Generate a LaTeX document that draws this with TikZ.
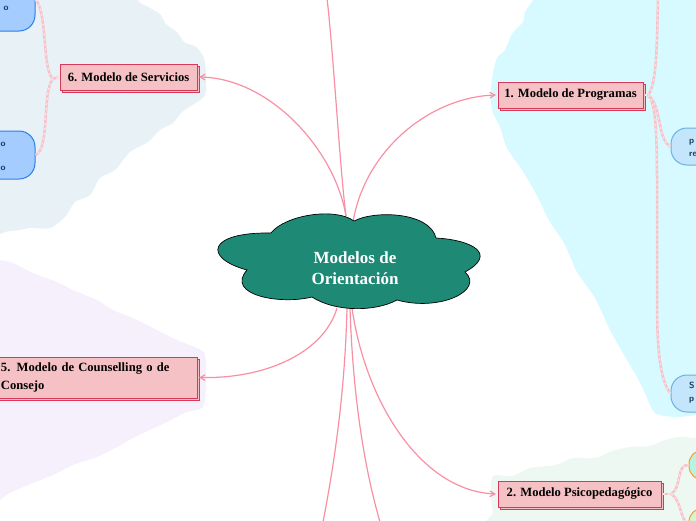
\documentclass[tikz,border=0pt]{standalone}
\usepackage{fontspec}
\setmainfont{Liberation Serif}
\usetikzlibrary{arrows,shadows}

\definecolor{linkpink}{HTML}{F98FA3}
\definecolor{stripepink}{HTML}{F7C3CA}
\definecolor{boxfill}{HTML}{F6C1C4}
\definecolor{boxline}{HTML}{D63A58}
\definecolor{cloudfill}{HTML}{1E8A76}
\definecolor{blobserv}{HTML}{E8F1F6}
\definecolor{blobprog}{HTML}{D6FAFF}
\definecolor{blobpsic}{HTML}{EEF8F3}
\definecolor{blobcons}{HTML}{F6F0FC}
\definecolor{leafblue}{HTML}{A5CCFF}
\definecolor{leafblueline}{HTML}{2A7FE8}
\definecolor{leafsky}{HTML}{C4E6FD}
\definecolor{leafskyline}{HTML}{6CB0E0}
\definecolor{leafmint}{HTML}{B8F3E0}
\definecolor{leafgreen}{HTML}{D4F5D0}
\definecolor{leaforange}{HTML}{F5A030}
\definecolor{leaftext}{HTML}{12405A}

\tikzset{
  wavy/.style={smooth cycle,tension=0.5},
  link/.style={draw=linkpink,line width=1.2pt},
  tolink/.style={link,-angle 60},
  stripe/.style={draw=stripepink,line width=2.5pt,postaction={draw=stripepink!45,line width=1.4pt,dash pattern=on 2pt off 3pt}},
  topic/.style={draw=boxline,fill=boxfill,line width=1pt,inner sep=0pt,outer sep=2pt,minimum height=26pt,
    font=\fontsize{12.6}{16}\selectfont\bfseries,text=black,
    copy shadow={shadow xshift=2pt,shadow yshift=-2pt,draw=boxline,fill=boxfill}},
  leaf/.style={draw=#1,line width=1pt,rounded corners=16pt,inner sep=0pt},
  leaflabel/.style={font=\fontsize{9}{13}\selectfont\sffamily\bfseries,text=leaftext,inner sep=0pt,align=left}
}

\begin{document}
\begin{tikzpicture}[x=1pt,y=-1pt]
  \path[use as bounding box,clip] (0,0) rectangle (696,520);

  \fill[blobserv] plot[wavy] coordinates {(137,-10) (138,1) (150,8) (160,14) (166,24) (177,32) (184,42) (196,47) (204,58) (206,75) (205,95) (194,104) (182,112) (173,123) (160,130) (148,142) (130,152) (115,170) (100,178) (90,195) (75,202) (65,217) (50,228) (30,228) (10,231) (-60,232) (-60,-10)};
  \fill[blobprog] plot[wavy] coordinates {(534,-10) (533,0) (525,12) (523,22) (512,34) (505,50) (497,58) (493,73) (491,90) (492,110) (500,127) (507,148) (522,170) (535,192) (550,222) (564,243) (577,272) (595,298) (610,330) (627,360) (637,377) (645,393) (655,413) (677,417) (696,415) (715,415) (715,-10)};
  \fill[blobpsic] plot[wavy] coordinates {(715,437) (696,438) (680,437) (665,440) (650,446) (630,447) (612,451) (595,458) (573,458) (555,465) (530,468) (512,476) (493,476) (491,495) (493,512) (500,530) (715,530)};
  \fill[blobcons] plot[wavy] coordinates {(-15,259) (0,260) (13,263) (33,273) (57,282) (73,290) (97,300) (113,310) (133,318) (153,328) (177,340) (197,348) (205,355) (206,383) (203,407) (187,412) (167,422) (150,430) (133,438) (117,447) (97,457) (73,465) (53,475) (33,483) (10,493) (0,500) (-15,510)};

  \coordinate (rootA) at (346,216);
  \coordinate (rootB) at (353,222);
  \coordinate (rootC) at (337,308);
  \coordinate (rootD) at (347,308);
  \coordinate (rootE) at (350,308);
  \coordinate (rootF) at (352,308);
  \coordinate (endtop) at (327,-2);
  \coordinate (endleft) at (323,522);
  \coordinate (endright) at (380,522);

  \node[topic,minimum width=137pt] (serv) at (128.5,77) {6. Modelo de Servicios};
  \node[topic,minimum width=145pt] (prog) at (570.5,95) {1. Modelo de Programas};
  \node[topic,minimum width=163pt] (psic) at (579.5,494) {2. Modelo Psicopedagógico};
  \node[topic,minimum width=200pt,minimum height=41pt,text width=192pt,align=left] (cons) at (97,377.5) {5. Modelo de Counselling o de\\[2pt]Consejo};

  \draw[link] (endtop) .. controls (334,60) and (340,170) .. (rootA);
  \draw[tolink] (rootA) .. controls (335,150) and (270,78) .. (serv.east);
  \draw[tolink] (rootB) .. controls (365,150) and (430,97) .. (prog.west);
  \draw[tolink] (rootC) .. controls (325,350) and (270,379) .. (cons.east);
  \draw[link] (rootD) .. controls (345,390) and (335,460) .. (endleft);
  \draw[link] (rootE) .. controls (353,400) and (365,470) .. (endright);
  \draw[tolink] (rootF) .. controls (365,400) and (420,491) .. (psic.west);

  \node[leaf=leafblueline,fill=leafblue,minimum width=80pt,minimum height=60pt] (leafA) at (-5,1) {};
  \node[leaf=leafblueline,fill=leafblue,minimum width=80pt,minimum height=48pt] (leafB) at (-5,155) {};
  \node[leaf=leafskyline,fill=leafsky,minimum width=80pt,minimum height=37pt] (leafC) at (711,146.5) {};
  \node[leaf=leafskyline,fill=leafsky,minimum width=80pt,minimum height=37pt] (leafD) at (711,393.5) {};
  \node[leaf=leaforange,fill=leafmint,minimum width=50pt,minimum height=30pt,rounded corners=14pt] (leafE) at (714,465) {};
  \node[leaf=leaforange,fill=leafgreen,minimum width=50pt,minimum height=30pt,rounded corners=14pt] (leafF) at (714,523) {};

  \node[leaflabel] (textA) at (6,8) {o};
  \node[leaflabel] (textB) at (3,144) {o};
  \node[leaflabel] (textE) at (3,168) {o};
  \node[leaflabel,anchor=west] (textC) at (689,148) {p\\re};
  \node[leaflabel,anchor=west] (textD) at (689,393) {S\\p};

  \coordinate (forkS) at (53,79);
  \coordinate (forkP) at (648,95);
  \coordinate (forkQ) at (671,494);
  \coordinate (endA) at (658,-2);
  \draw[stripe] (serv.west) -- (forkS);
  \draw[stripe] (forkS) .. controls (42,70) and (48,15) .. (leafA.east |- 0,-1);
  \draw[stripe] (forkS) .. controls (42,90) and (50,150) .. (leafB.east);
  \draw[stripe] (prog.east) -- (forkP);
  \draw[stripe] (forkP) .. controls (657,85) and (657,40) .. (endA);
  \draw[stripe] (forkP) .. controls (662,105) and (657,140) .. (leafC.west);
  \draw[stripe] (forkP) .. controls (655,100) and (657,130) .. (657,180) -- (657,300) .. controls (657,350) and (660,380) .. (leafD.west);
  \draw[stripe] (psic.east) -- (forkQ);
  \draw[stripe] (forkQ) .. controls (682,488) and (676,464) .. (leafE.west);
  \draw[stripe] (forkQ) .. controls (682,500) and (680,522) .. (leafF.west);

  \draw[draw=black,fill=cloudfill,line width=0.7pt] (271,233) .. controls (285,215) and (335,207) .. (354,221)
    .. controls (375,210) and (430,212) .. (436,238)
    .. controls (472,240) and (498,254) .. (465,272)
    .. controls (485,290) and (440,312) .. (397,300)
    .. controls (375,312) and (335,312) .. (312,297)
    .. controls (280,305) and (225,295) .. (247,270)
    .. controls (203,258) and (207,232) .. (271,233) -- cycle;
  \node[text=white,align=center,font=\fontsize{17}{21}\selectfont\bfseries,inner sep=0pt] (title) at (355,268) {Modelos de\\Orientación};
\end{tikzpicture}
\end{document}
